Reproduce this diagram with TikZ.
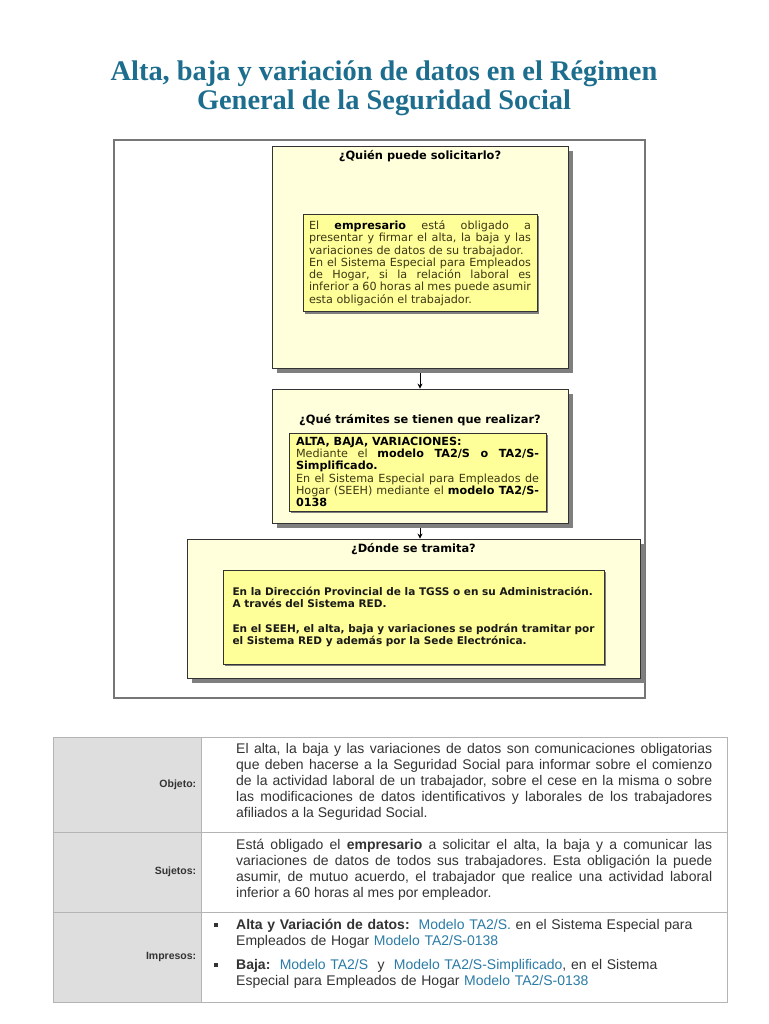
\documentclass[tikz,border=0pt]{standalone}
\usepackage{fontspec}
\setmainfont{Liberation Sans}
\newfontfamily\titlefont{Liberation Serif}
\newfontfamily\flowfont{DejaVu Sans}
\usetikzlibrary{positioning,shadows,arrows.meta}
\definecolor{titleblue}{HTML}{1C6D8E}
\definecolor{linkblue}{HTML}{2A7BA6}
\definecolor{cream}{HTML}{FFFFDC}
\definecolor{lemon}{HTML}{FFFF99}
\definecolor{shadowgray}{HTML}{7F7F7F}
\definecolor{framegray}{HTML}{767676}
\definecolor{cellgray}{HTML}{DEDEDE}
\definecolor{rulegray}{HTML}{B4B4B4}
\definecolor{bodytext}{HTML}{333333}
\definecolor{olivetext}{HTML}{3C3714}
\frenchspacing
\begin{document}
\begin{tikzpicture}[
    x=1pt, y=-1pt,
    % Cajas del diagrama
    outerbox/.style={rectangle, draw=black!80, line width=0.8pt, fill=cream, inner sep=0pt,
      drop shadow={shadow xshift=5pt, shadow yshift=-5pt, fill=shadowgray, opacity=1}},
    innerbox/.style={rectangle, draw=black!80, line width=0.8pt, fill=lemon, inner sep=6pt,
      font=\flowfont\fontsize{11.2}{12.3}\selectfont, text=olivetext,
      drop shadow={shadow xshift=2pt, shadow yshift=-2pt, fill=shadowgray, opacity=1}},
    boxtitle/.style={font=\flowfont\bfseries\fontsize{11.4}{13}\selectfont, inner sep=0pt},
    arrow/.style={line width=1pt, -{Stealth[length=5pt,width=5pt]}},
    % Tabla
    graycell/.style={rectangle, draw=rulegray, fill=cellgray, inner sep=0pt, line width=0.8pt},
    whitecell/.style={rectangle, draw=rulegray, fill=white, inner sep=0pt, line width=0.8pt},
    rowlabel/.style={font=\bfseries\fontsize{10.5}{12}\selectfont, text=bodytext, inner sep=0pt, anchor=east},
    celltext/.style={font=\fontsize{14}{16}\selectfont, text=bodytext, text width=476pt, align=justify, inner sep=0pt, anchor=north west},
    bullet/.style={rectangle, fill=bodytext, minimum size=3.5pt, inner sep=0pt}
  ]
  \path[use as bounding box, fill=white] (0,0) rectangle (768,1024);

  % Titulo
  \node (title) [font=\titlefont\bfseries\fontsize{28.4}{29}\selectfont, text=titleblue, align=center] at (384,88)
    {Alta, baja y variación de datos en el Régimen\\General de la Seguridad Social};

  % Marco
  \node (frame) [draw=framegray, line width=1.5pt, minimum width=531pt, minimum height=558pt, inner sep=0pt] at (379.5,419) {};

  % Nodos
  \node (quien) [outerbox, minimum width=296pt, minimum height=222pt] at (420,257) {};
  \node (quienT) [boxtitle, below=5pt of quien.north] {¿Quién puede solicitarlo?};
  \node (quienI) [innerbox, text width=222pt, align=justify] at (420,263)
    {El \textcolor{black}{\bfseries empresario} está obligado a\linebreak
     presentar y firmar el alta, la baja y las\linebreak
     variaciones de datos de su trabajador.\par
     En el Sistema Especial para Empleados\linebreak
     de Hogar, si la relación laboral es\linebreak
     inferior a 60 horas al mes puede asumir\linebreak
     esta obligación el trabajador.};

  \node (tramites) [outerbox, minimum width=296pt, minimum height=134pt] at (420,456) {};
  \node (tramitesT) [boxtitle] at (420,420) {¿Qué trámites se tienen que realizar?};
  \node (tramitesI) [innerbox, text width=243pt, align=justify, inner xsep=7pt, inner ysep=4pt] at (417.5,472)
    {\textcolor{black}{\bfseries ALTA, BAJA, VARIACIONES:}\par
     Mediante el \textcolor{black}{\bfseries modelo TA2/S o TA2/S-}\linebreak
     \textcolor{black}{\bfseries Simplificado.}\par
     En el Sistema Especial para Empleados de\linebreak
     Hogar (SEEH) mediante el \textcolor{black}{\bfseries modelo TA2/S-}\linebreak
     \textcolor{black}{\bfseries 0138}};

  \node (donde) [outerbox, minimum width=453pt, minimum height=139pt] at (413.5,608.5) {};
  \node (dondeT) [boxtitle, below=5pt of donde.north] {¿Dónde se tramita?};
  \node (dondeI) [innerbox, align=left, minimum width=381pt, minimum height=94pt, text=black!90, font=\flowfont\bfseries\fontsize{10.5}{12.3}\selectfont] at (413.5,617)
    {En la Dirección Provincial de la TGSS o en su Administración.\\
     A través del Sistema RED.\\[12.3pt]
     En el SEEH, el alta, baja y variaciones se podrán tramitar por\\
     el Sistema RED y además por la Sede Electrónica.};

  % Collegamenti
  \draw [arrow] (quien.south) ++(0,5) -- (tramites.north);
  \draw [arrow] (tramites.south) ++(0,5) -- (tramites.south |- donde.north);

  % Tabla
  \node (objL) [graycell, minimum width=148pt, minimum height=95pt] at (127,784.5) {};
  \node (objR) [whitecell, minimum width=526pt, minimum height=95pt] at (464,784.5) {};
  \node (sujL) [graycell, minimum width=148pt, minimum height=80pt] at (127,872) {};
  \node (sujR) [whitecell, minimum width=526pt, minimum height=80pt] at (464,872) {};
  \node (impL) [graycell, minimum width=148pt, minimum height=90pt] at (127,957) {};
  \node (impR) [whitecell, minimum width=526pt, minimum height=90pt] at (464,957) {};

  \node (objLab) [rowlabel] at ([xshift=-5pt]objL.east) {Objeto:};
  \node (sujLab) [rowlabel] at ([xshift=-5pt]sujL.east) {Sujetos:};
  \node (impLab) [rowlabel] at ([xshift=-5pt]impL.east) {Impresos:};

  \node (objTxt) [celltext] at (236,743)
    {El alta, la baja y las variaciones de datos son comunicaciones obligatorias\linebreak
     que deben hacerse a la Seguridad Social para informar sobre el comienzo\linebreak
     de la actividad laboral de un trabajador, sobre el cese en la misma o sobre\linebreak
     las modificaciones de datos identificativos y laborales de los trabajadores\linebreak
     afiliados a la Seguridad Social.};
  \node (sujTxt) [celltext] at (236,839)
    {Está obligado el \textbf{empresario} a solicitar el alta, la baja y a comunicar las\linebreak
     variaciones de datos de todos sus trabajadores. Esta obligación la puede\linebreak
     asumir, de mutuo acuerdo, el trabajador que realice una actividad laboral\linebreak
     inferior a 60 horas al mes por empleador.};

  \node (altaB) [bullet] at (216,925) {};
  \node (altaTxt) [celltext, align=left] at (236,919)
    {\textbf{Alta y Variación de datos:}\hspace{9pt}\textcolor{linkblue}{Modelo TA2/S.} en el Sistema Especial para\\
     Empleados de Hogar \textcolor{linkblue}{Modelo TA2/S-0138}};
  \node (bajaB) [bullet] at (216,965) {};
  \node (bajaTxt) [celltext, align=left] at (236,959)
    {\textbf{Baja:}\ \ \textcolor{linkblue}{Modelo TA2/S}\ \ y\ \ \textcolor{linkblue}{Modelo TA2/S-Simplificado}, en el Sistema\\
     Especial para Empleados de Hogar \textcolor{linkblue}{Modelo TA2/S-0138}};
\end{tikzpicture}
\end{document}
